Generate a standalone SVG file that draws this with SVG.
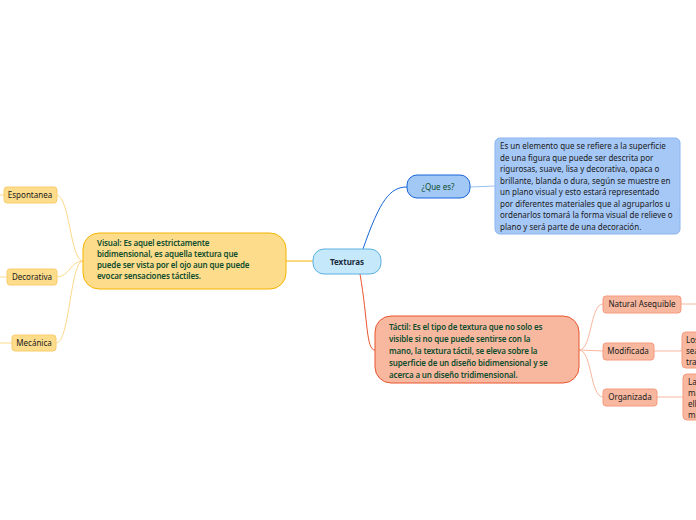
<svg xmlns="http://www.w3.org/2000/svg" width="696" height="520" viewBox="0 0 696 520">
<style>
text{font-family:"Noto Sans","Open Sans",sans-serif;font-size:8px;fill:#1a1a1a}
.g{fill:#0d4d2e}
.b{font-weight:600;letter-spacing:-0.15px}
.c{fill:none;stroke-width:1}
</style>
<rect width="696" height="520" fill="#fff"/>
<g id="connectors">
<path class="c" stroke="#1565d8" stroke-width="1.5" d="M363,249 C380,200 390,187 407,187"/>
<path class="c" stroke="#9cc0f0" d="M470,187 L495,186"/>
<path class="c" stroke="#e8552d" stroke-width="1.5" d="M360,274 C368,320 366,350 375,350"/>
<path class="c" stroke="#f5b400" stroke-width="1.5" d="M313,261 L286,261"/>
<path class="c" stroke="#fcd98a" d="M83,261 C70,261 70,195 56,195"/>
<path class="c" stroke="#fcd98a" d="M83,261 C70,261 70,277 56,277"/>
<path class="c" stroke="#fcd98a" d="M83,261 C70,261 70,343 56,343"/>
<path class="c" stroke="#fcd98a" d="M0,195 L4,195 M0,277 L7,277 M0,343 L12,343"/>
<path class="c" stroke="#f8b8a0" d="M579,350 C592,350 590,304 603,304"/>
<path class="c" stroke="#f8b8a0" d="M579,350 L603,351"/>
<path class="c" stroke="#f8b8a0" d="M579,350 C592,350 590,397 603,397"/>
<path class="c" stroke="#f8b8a0" d="M681,304 L696,304 M654,351 L682,351 M657,397 L683,397"/>
</g>
<g id="texturas"><rect x="313" y="249" width="68" height="25" rx="11" fill="#c5e9fb" stroke="#5ab0e0"/><text x="347" y="265" text-anchor="middle" font-size="10.5" font-weight="bold" style="fill:#1a2a3a">Texturas</text></g>
<g id="quees"><rect x="407" y="175" width="63" height="23" rx="10" fill="#a2c8f6" stroke="#1565d8"/><text x="438" y="190" text-anchor="middle" class="g" font-size="8.5">¿Que es?</text></g>
<g id="def"><rect x="495" y="138" width="185" height="96" rx="5" fill="#a6c8f6" stroke="#8ab4ef"/>
<text font-size="7.3"><tspan x="500" y="149">Es un elemento que se refiere a la superficie</tspan><tspan x="500" y="160.5">de una figura que puede  ser descrita por</tspan><tspan x="500" y="172">rigurosas, suave, lisa y decorativa, opaca o</tspan><tspan x="500" y="183.5">brillante, blanda o dura, según se muestre en</tspan><tspan x="500" y="195">un plano visual y esto  estará representado</tspan><tspan x="500" y="206.5">por diferentes materiales que al agruparlos u</tspan><tspan x="500" y="218">ordenarlos tomará la forma visual de relieve o</tspan><tspan x="500" y="229.5">plano y será parte de una decoración.</tspan></text></g>
<g id="visual"><rect x="83" y="233" width="203" height="56" rx="16" fill="#fddc8c" stroke="#f5b400"/>
<text class="g b" font-size="8"><tspan x="97" y="246">Visual: Es aquel estrictamente</tspan><tspan x="97" y="257">bidimensional, es aquella textura  que</tspan><tspan x="97" y="268">puede ser vista por el ojo aun que puede</tspan><tspan x="97" y="279">evocar sensaciones táctiles.</tspan></text></g>
<g id="espontanea"><rect x="4" y="187" width="53" height="16" rx="3" fill="#fddc8c" stroke="#f9cd6a"/><text x="30" y="198" text-anchor="middle">Espontanea</text></g>
<g id="decorativa"><rect x="7" y="269" width="50" height="16" rx="3" fill="#fddc8c" stroke="#f9cd6a"/><text x="32" y="280" text-anchor="middle">Decorativa</text></g>
<g id="mecanica"><rect x="12" y="335" width="44" height="16" rx="3" fill="#fddc8c" stroke="#f9cd6a"/><text x="34" y="346" text-anchor="middle">Mecánica</text></g>
<g id="tactil"><rect x="375" y="316" width="204" height="67" rx="16" fill="#f8b8a0" stroke="#e8552d"/>
<text class="g b" font-size="8"><tspan x="389" y="330">Táctil: Es el tipo de textura que no solo es</tspan><tspan x="389" y="342">visible si no que puede sentirse con la</tspan><tspan x="389" y="354">mano, la textura táctil, se eleva sobre la</tspan><tspan x="389" y="366">superficie de un diseño bidimensional y se</tspan><tspan x="389" y="378">acerca a un diseño tridimensional.</tspan></text></g>
<g id="natural"><rect x="603" y="296" width="78" height="17" rx="3" fill="#f8b8a0" stroke="#f59a7e"/><text x="642" y="307" text-anchor="middle">Natural Asequible</text></g>
<g id="modificada"><rect x="603" y="343" width="51" height="17" rx="3" fill="#f8b8a0" stroke="#f59a7e"/><text x="628" y="354" text-anchor="middle">Modificada</text></g>
<g id="organizada"><rect x="603" y="389" width="54" height="17" rx="3" fill="#f8b8a0" stroke="#f59a7e"/><text x="630" y="400" text-anchor="middle">Organizada</text></g>
<g id="mod-desc"><rect x="682" y="332" width="30" height="36" rx="4" fill="#f8b8a0" stroke="#f59a7e"/><text><tspan x="686" y="343">Los</tspan><tspan x="686" y="354">sea</tspan><tspan x="686" y="365">tra</tspan></text></g>
<g id="org-desc"><rect x="683" y="374" width="30" height="46" rx="4" fill="#f8b8a0" stroke="#f59a7e"/><text><tspan x="688" y="385">La</tspan><tspan x="688" y="396">ma</tspan><tspan x="688" y="407">ell</tspan><tspan x="688" y="418">mi</tspan></text></g>
</svg>
